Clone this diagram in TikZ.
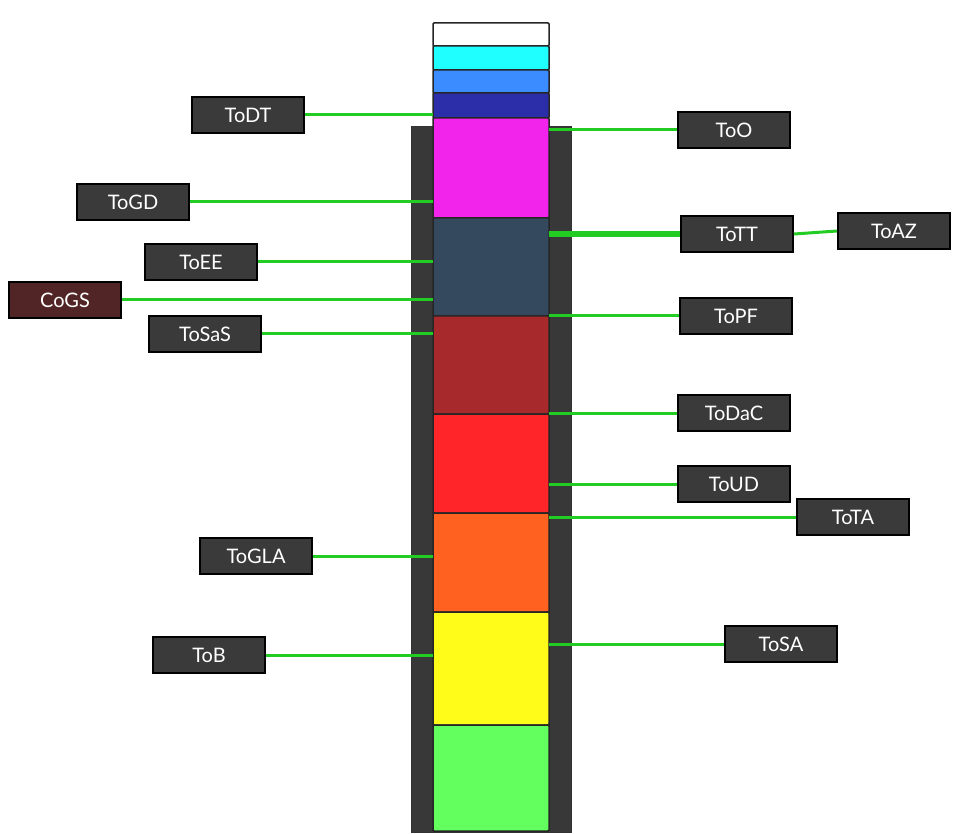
\documentclass[tikz,border=0pt]{standalone}
\usepackage{fontspec}
\setmainfont{Lato}
\usetikzlibrary{positioning}

\definecolor{colGray}{HTML}{383838}
\definecolor{tagGray}{HTML}{3A3A3A}
\definecolor{cogsRed}{HTML}{512525}
\definecolor{wireGreen}{HTML}{22CC22}
\definecolor{cWhite}{HTML}{FFFFFF}
\definecolor{cCyan}{HTML}{1FFFFF}
\definecolor{cLBlue}{HTML}{3A8CFF}
\definecolor{cDBlue}{HTML}{2B2EA8}
\definecolor{cMagenta}{HTML}{F224EC}
\definecolor{cSlate}{HTML}{35495E}
\definecolor{cBrown}{HTML}{A8292B}
\definecolor{cRed}{HTML}{FF2528}
\definecolor{cOrange}{HTML}{FF6121}
\definecolor{cYellow}{HTML}{FFFC1A}
\definecolor{cGreen}{HTML}{62FF5E}

\tikzset{
  tag/.style={draw=black, line width=2pt, fill=tagGray, text=white,
    minimum width=112pt, minimum height=36pt, inner sep=0pt,
    font=\fontsize{20}{24}\selectfont},
  seg/.style={draw=black!85, line width=1.5pt, rounded corners=1pt,
    anchor=north west, minimum width=116pt, inner sep=0pt, outer sep=0pt},
  wire/.style={draw=wireGreen, line width=3pt},
}

\begin{document}
\begin{tikzpicture}[x=1pt,y=-1pt]
  \useasboundingbox (0,0) rectangle (959,834);

  % column
  \draw[fill=colGray, draw=black!80, line width=1pt] (411,127) rectangle (571,832);

  \foreach \top/\bot/\col/\name in {23/46/cWhite/sWhite, 46/70/cCyan/sCyan,
      70/93/cLBlue/sLBlue, 93/118/cDBlue/sDBlue, 118/218/cMagenta/sMagenta,
      218/316/cSlate/sSlate, 316/414/cBrown/sBrown, 414/513/cRed/sRed,
      513/612/cOrange/sOrange, 612/725/cYellow/sYellow, 725/831/cGreen/sGreen}
    \node[seg, fill=\col, minimum height={\bot-\top}] (\name) at (433,\top) {};

  % left tags
  \node[tag] (todt) at (248,115) {ToDT};
  \node[tag] (togd) at (133,202) {ToGD};
  \node[tag] (toee) at (201,262) {ToEE};
  \node[tag, fill=cogsRed] (cogs) at (65,300) {CoGS};
  \node[tag] (tosas) at (205,334) {ToSaS};
  \node[tag] (togla) at (256,556) {ToGLA};
  \node[tag] (tob) at (209,655) {ToB};

  % right tags
  \node[tag] (too) at (734,130) {ToO};
  \node[tag] (tott) at (737,234) {ToTT};
  \node[tag] (toaz) at (894,231) {ToAZ};
  \node[tag] (topf) at (736,316) {ToPF};
  \node[tag] (todac) at (734,413) {ToDaC};
  \node[tag] (toud) at (734,484) {ToUD};
  \node[tag] (tota) at (853,517) {ToTA};
  \node[tag] (tosa) at (781,644) {ToSA};

  % wires
  \draw[wire] (todt.east) -- (todt.east -| sDBlue.west);
  \draw[wire] (togd.east) -- (togd.east -| sMagenta.west);
  \draw[wire] (toee.east) -- (toee.east -| sSlate.west);
  \draw[wire] (cogs.east) -- (cogs.east -| sSlate.west);
  \draw[wire] (tosas.east) -- (tosas.east -| sBrown.west);
  \draw[wire] (togla.east) -- (togla.east -| sOrange.west);
  \draw[wire] (tob.east) -- (tob.east -| sYellow.west);

  \draw[wire] (too.west) -- (too.west -| sMagenta.east);
  \draw[wire, line width=2.5pt] ([yshift=1.5pt]tott.west) -- ([yshift=1.5pt]tott.west -| sSlate.east);
  \draw[wire, line width=2.5pt] ([yshift=-1.5pt]tott.west) -- ([yshift=-1.5pt]tott.west -| sSlate.east);
  \draw[wire] (tott.east) -- (toaz.west);
  \draw[wire] (topf.west) -- (topf.west -| sBrown.east);
  \draw[wire] (todac.west) -- (todac.west -| sRed.east);
  \draw[wire] (toud.west) -- (toud.west -| sRed.east);
  \draw[wire] (tota.west) -- (tota.west -| sOrange.east);
  \draw[wire] (tosa.west) -- (tosa.west -| sYellow.east);

\end{tikzpicture}
\end{document}
